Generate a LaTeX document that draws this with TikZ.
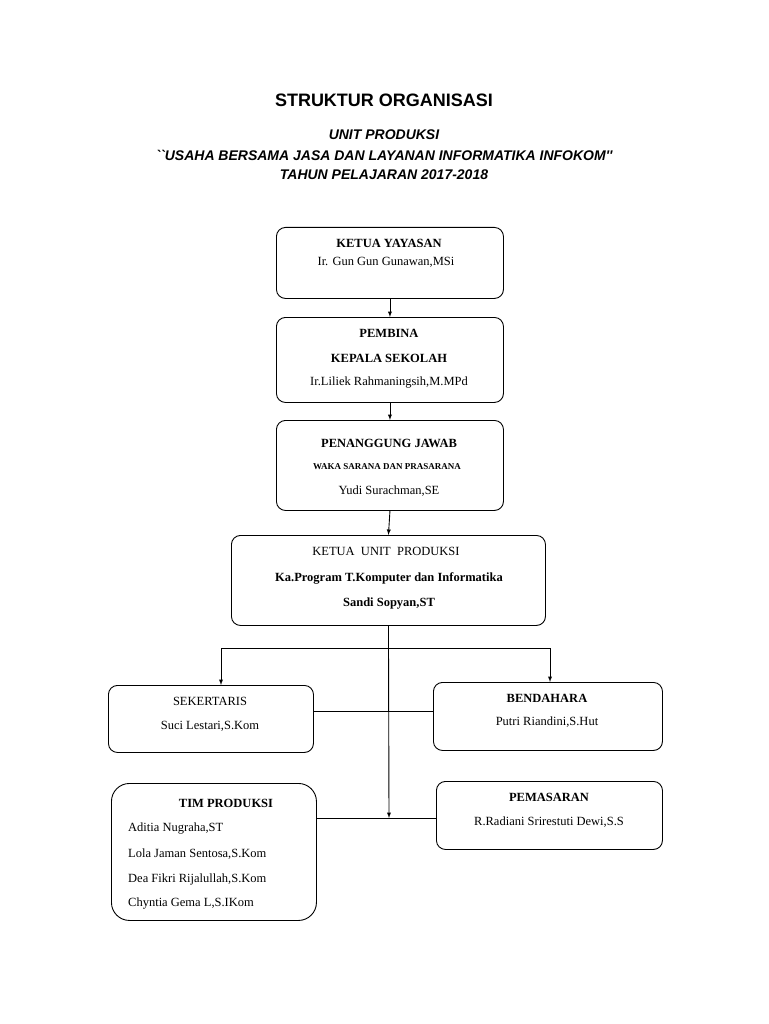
\documentclass[tikz,border=0pt]{standalone}
\usepackage{fontspec}
\setmainfont{Liberation Serif}
\newfontfamily\headfont{Liberation Sans}
\begin{document}
\begin{tikzpicture}[x=1pt,y=-1pt,
		box/.style={draw, rounded corners=9pt, line width=0.9pt, anchor=north west, inner sep=0pt},
		txt/.style={font=\fontsize{12.5}{14}\selectfont, inner sep=0pt},
		btxt/.style={font=\fontsize{12.5}{14}\selectfont\bfseries, inner sep=0pt},
		line/.style={line width=0.9pt},
		arr/.style={->, >=latex, line width=0.9pt}]
	\useasboundingbox (0,0) rectangle (768,1024);
	% titles
	\node[font=\headfont\fontsize{18}{20}\selectfont\bfseries] (title) at (384,100) {STRUKTUR ORGANISASI};
	\node[font=\headfont\fontsize{14}{16}\selectfont\bfseries\itshape] (sub1) at (384,135) {UNIT PRODUKSI};
	\node[font=\headfont\fontsize{14}{16}\selectfont\bfseries\itshape] (sub2) at (384,155) {``USAHA BERSAMA JASA DAN LAYANAN INFORMATIKA INFOKOM''};
	\node[font=\headfont\fontsize{14}{16}\selectfont\bfseries\itshape] (sub3) at (384,175) {TAHUN PELAJARAN 2017-2018};
	% boxes
	\node[box, minimum width=227, minimum height=71] (ketua) at (276,227) {};
	\node[box, minimum width=227, minimum height=85] (pembina) at (276,317) {};
	\node[box, minimum width=227, minimum height=90] (pj) at (276,420) {};
	\node[box, minimum width=314, minimum height=90] (unit) at (231,535) {};
	\node[box, minimum width=205, minimum height=67] (sek) at (108,685) {};
	\node[box, minimum width=229, minimum height=68] (bend) at (433,682) {};
	\node[box, minimum width=205, minimum height=137, rounded corners=18pt] (tim) at (111,783) {};
	\node[box, minimum width=226, minimum height=68] (pem) at (436,781) {};
	% texts
	\node[btxt] (t1) at (389,243) {KETUA YAYASAN};
	\node[txt] (t2) at (386,262) {Ir. Gun Gun Gunawan,MSi};
	\node[btxt] (t3) at (389,333) {PEMBINA};
	\node[btxt] (t4) at (389,358) {KEPALA SEKOLAH};
	\node[txt] (t5) at (389,383) {Ir.Liliek Rahmaningsih,M.MPd};
	\node[btxt] (t6) at (389,443) {PENANGGUNG JAWAB};
	\node[btxt, font=\fontsize{9}{11}\selectfont\bfseries] (t7) at (387,467) {WAKA SARANA DAN PRASARANA};
	\node[txt] (t8) at (389,491) {Yudi Surachman,SE};
	\node[txt] (t9) at (386,551) {KETUA\ \ UNIT\ \ PRODUKSI};
	\node[btxt] (t10) at (389,578) {Ka.Program T.Komputer dan Informatika};
	\node[btxt] (t11) at (389,604) {Sandi Sopyan,ST};
	\node[txt] (t12) at (210,701) {SEKERTARIS};
	\node[txt] (t13) at (210,726) {Suci Lestari,S.Kom};
	\node[btxt] (t14) at (547,698) {BENDAHARA};
	\node[txt] (t15) at (547,722) {Putri Riandini,S.Hut};
	\node[btxt] (t16) at (226,803) {TIM PRODUKSI};
	\node[txt, anchor=west] (t17) at (128,829) {Aditia Nugraha,ST};
	\node[txt, anchor=west] (t18) at (128,854) {Lola Jaman Sentosa,S.Kom};
	\node[txt, anchor=west] (t19) at (128,879) {Dea Fikri Rijalullah,S.Kom};
	\node[txt, anchor=west] (t20) at (128,904) {Chyntia Gema L,S.IKom};
	\node[btxt] (t21) at (549,797) {PEMASARAN};
	\node[txt] (t22) at (549,822) {R.Radiani Srirestuti Dewi,S.S};
	% connectors
	\coordinate (hub) at (389,818);
	\coordinate (splitL) at (221,648);
	\coordinate (splitR) at (550,648);
	\draw[arr] (ketua.south) -- (pembina.north);
	\draw[arr] (pembina.south) -- (pj.north);
	\draw[arr] (pj.south) -- (unit.north);
	\draw[arr] (unit.south) -- (hub);
	\draw[line] (splitL) -- (splitR);
	\draw[arr] (splitL) -- (splitL |- sek.north);
	\draw[arr] (splitR) -- (splitR |- bend.north);
	\draw[line] (sek.east |- 0,711) -- (bend.west |- 0,711);
	\draw[line] (tim.east |- hub) -- (pem.west |- hub);
\end{tikzpicture}
\end{document}
